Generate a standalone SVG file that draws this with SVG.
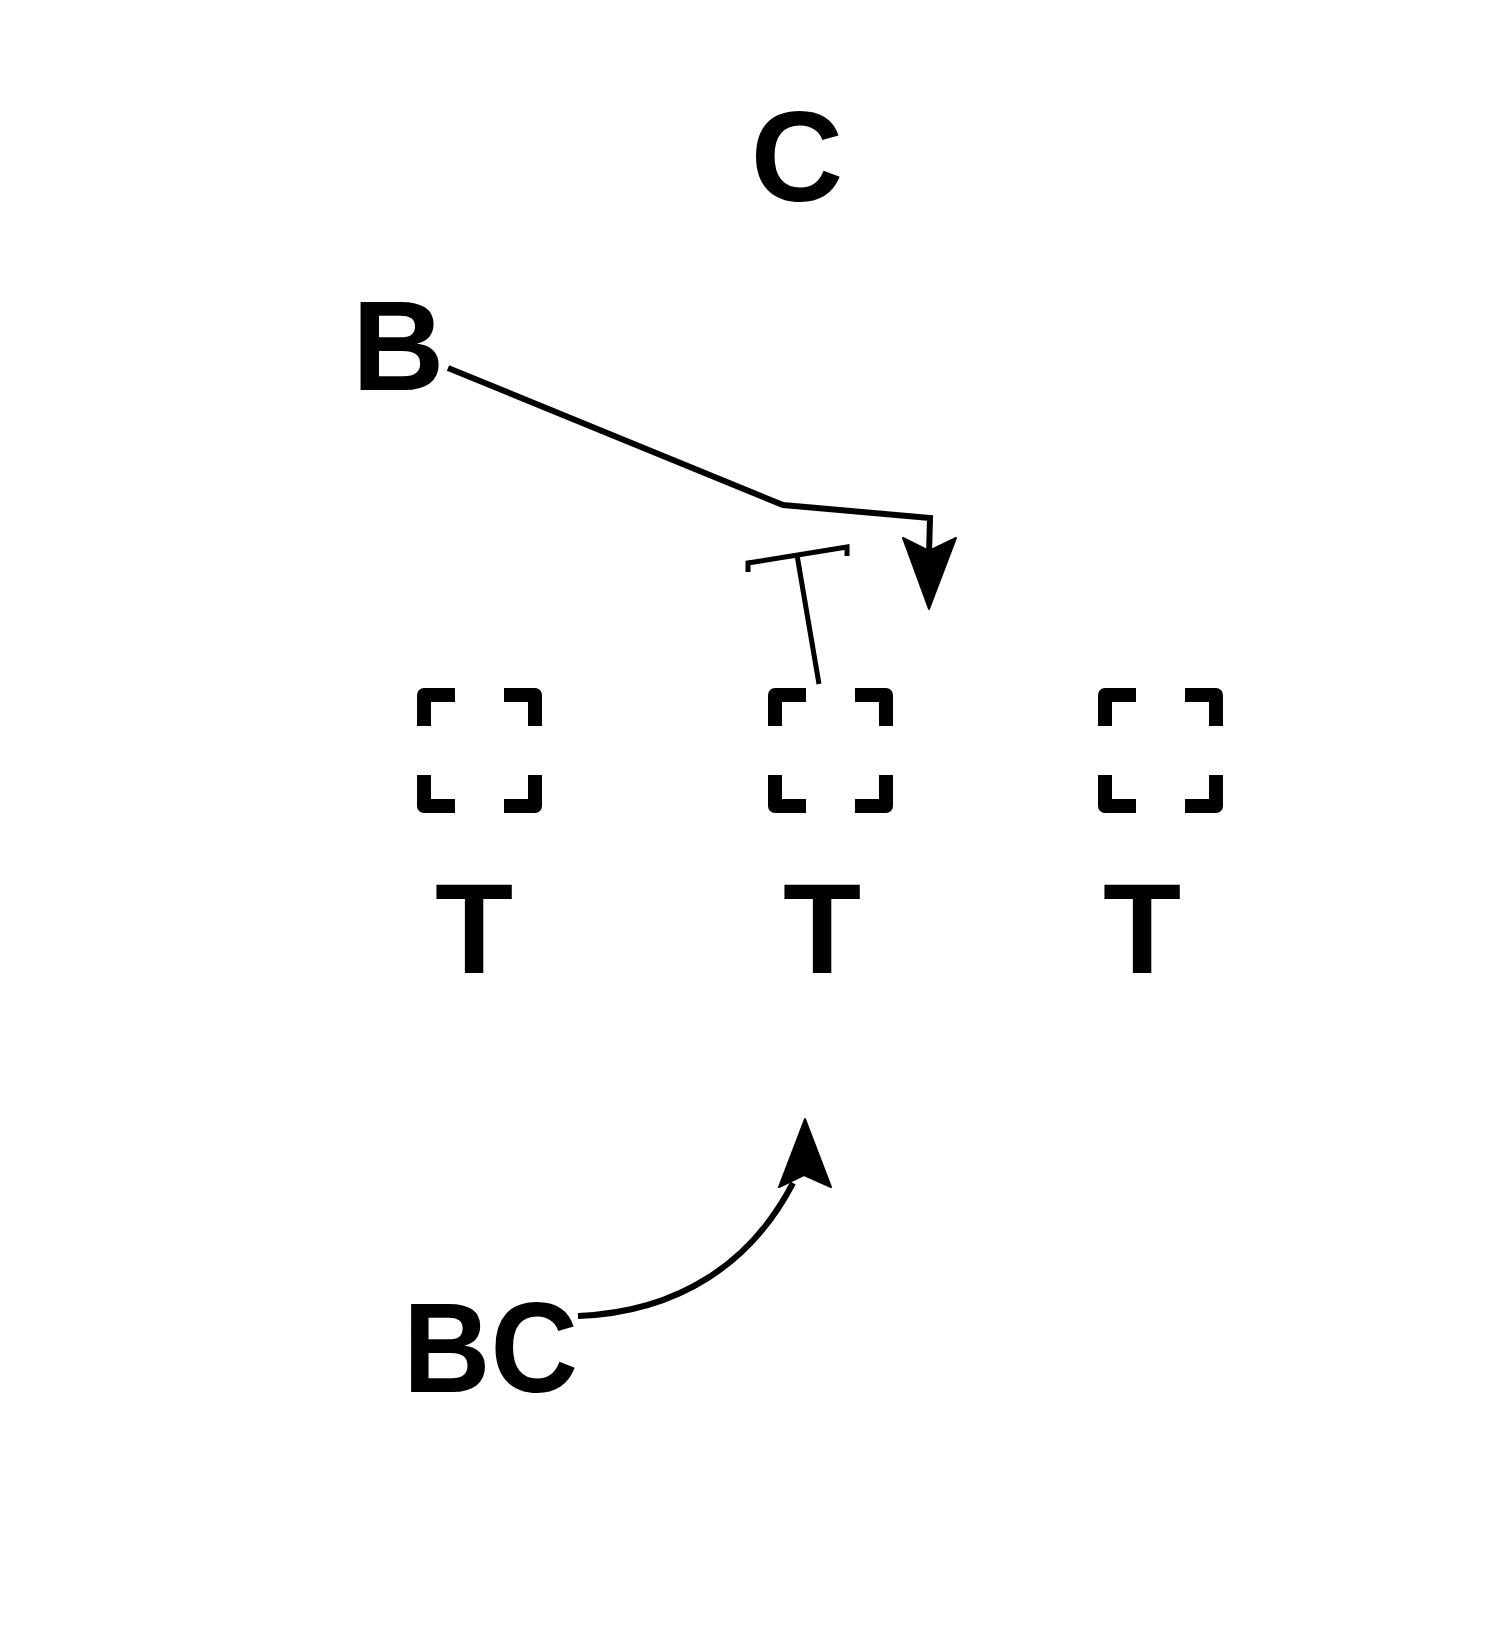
<svg xmlns="http://www.w3.org/2000/svg" width="1500" height="1636" viewBox="0 0 1500 1636">
<style>
.lbl{font-family:"Liberation Sans",Arial,sans-serif;font-weight:bold;font-size:128px;fill:#000}
.brk{fill:none;stroke:#000;stroke-width:14;stroke-linejoin:round;stroke-linecap:butt}
.ln{fill:none;stroke:#000;stroke-width:6;stroke-linejoin:miter}
.thin{fill:none;stroke:#000;stroke-width:5}
.head{fill:#000;stroke:#000;stroke-width:2;stroke-linejoin:round}
</style>
<defs>
<g id="box">
<path class="brk" d="M7,38 V7 H38 M87,7 H118 V38 M7,87 V118 H38 M87,118 H118 V87"/>
</g>
</defs>
<rect width="1500" height="1636" fill="#fff"/>
<g id="node-C"><text class="lbl" x="797" y="201" text-anchor="middle">C</text></g>
<g id="node-B"><text class="lbl" x="352" y="390">B</text></g>
<g id="node-BC"><text class="lbl" x="403" y="1392" textLength="175" lengthAdjust="spacingAndGlyphs">BC</text></g>
<g id="node-box1"><use href="#box" x="417" y="688"/></g>
<g id="node-box2"><use href="#box" x="768" y="688"/></g>
<g id="node-box3"><use href="#box" x="1098" y="688"/></g>
<g id="node-T1"><text class="lbl" x="474" y="973" text-anchor="middle">T</text></g>
<g id="node-T2"><text class="lbl" x="822" y="973" text-anchor="middle">T</text></g>
<g id="node-T3"><text class="lbl" x="1142" y="973" text-anchor="middle">T</text></g>
<g id="connectors">
<path class="ln" d="M448,368 L783,505 L930,518 L929,555"/>
<polygon class="head" points="929,609 903,538 929,551 956,538"/>
<path class="thin" d="M748,572 L748,563 L847,547 L847,556"/>
<path class="thin" d="M797,555 L819,684"/>
<path class="ln" d="M578,1316 C680,1312 752,1262 793,1183"/>
<polygon class="head" points="805,1119 779,1187 804,1175 831,1187"/>
</g>
</svg>
